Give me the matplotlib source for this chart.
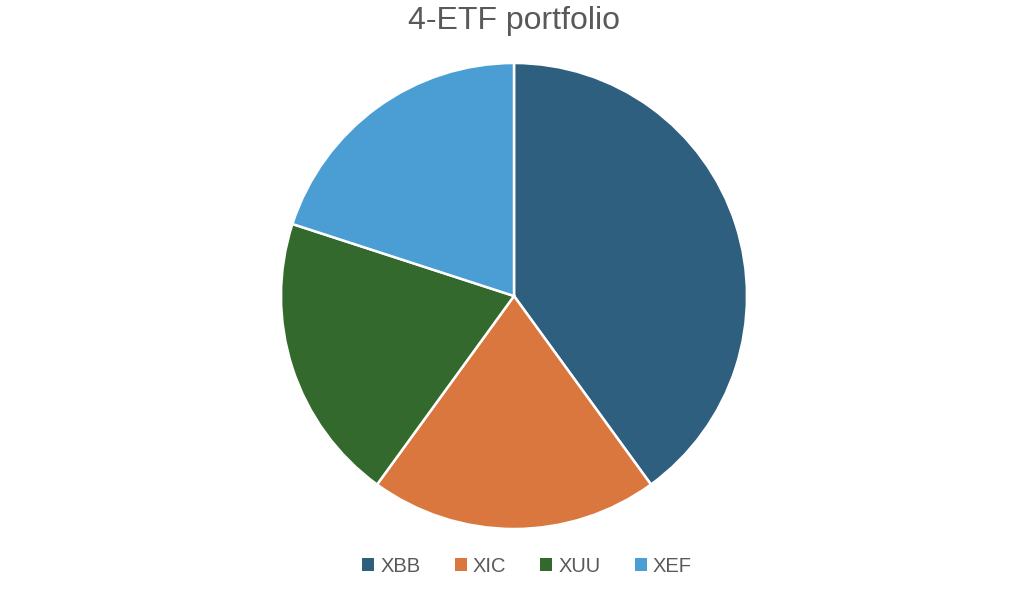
import matplotlib.pyplot as plt
from matplotlib.patches import Patch

# Data
labels = ["XBB", "XIC", "XUU", "XEF"]
weights = [40, 20, 20, 20]
colors = ["#2E5F7F", "#D9773E", "#33692C", "#4A9ED3"]

plt.rcParams["font.family"] = ["Liberation Sans", "DejaVu Sans"]

fig = plt.figure(figsize=(10.24, 5.99), dpi=100)
W, H = 1024, 599
cx, cy, r = 514, 296, 233
ax = fig.add_axes([(cx - r) / W, (H - cy - r) / H, 2 * r / W, 2 * r / H])

wedges, _ = ax.pie(
    weights,
    colors=colors,
    startangle=90,
    counterclock=False,
    radius=1,
    wedgeprops=dict(edgecolor="white", linewidth=1.8),
)
ax.set_xlim(-1, 1)
ax.set_ylim(-1, 1)
ax.set_aspect("equal")
ax.axis("off")

# Title
fig.text(cx / W, 1 - 29 / H, "4-ETF portfolio", ha="center", va="baseline",
         fontsize=23, color="#595959")

# Legend
handles = [Patch(facecolor=c, edgecolor="none") for c in colors]
fig.legend(handles, labels, loc="center", bbox_to_anchor=(527 / W, 1 - 566 / H),
           ncol=4, frameon=False, fontsize=14.5, labelcolor="#595959",
           handlelength=0.6, handleheight=0.6, handletextpad=0.3,
           columnspacing=1.7)

plt.savefig("out.png", dpi=100)
plt.close()
